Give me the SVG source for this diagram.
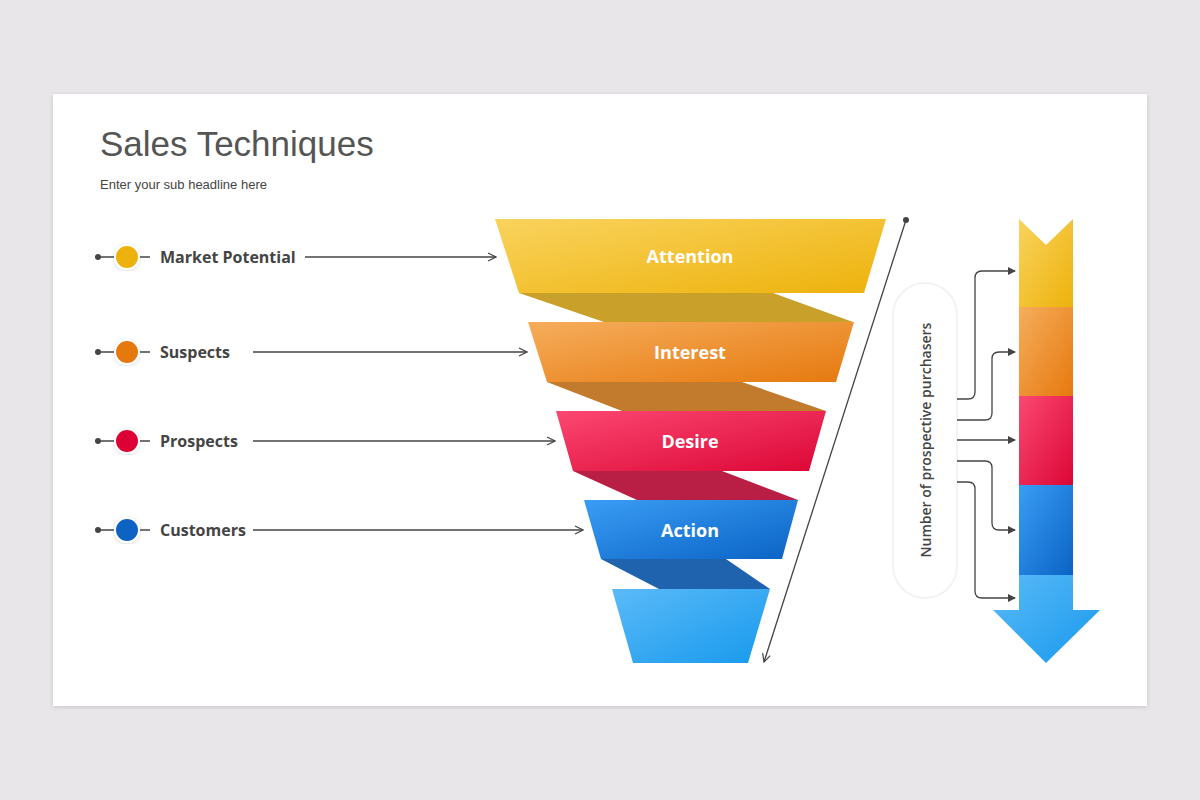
<svg xmlns="http://www.w3.org/2000/svg" width="1200" height="800" viewBox="0 0 1200 800">
<defs>
<linearGradient id="gY" x1="0" y1="0" x2="1" y2="1"><stop offset="0" stop-color="#fad35e"/><stop offset="1" stop-color="#edb20b"/></linearGradient>
<linearGradient id="gO" x1="0" y1="0" x2="1" y2="1"><stop offset="0" stop-color="#f6ad5c"/><stop offset="1" stop-color="#e6790e"/></linearGradient>
<linearGradient id="gR" x1="0" y1="0" x2="1" y2="1"><stop offset="0" stop-color="#fb4871"/><stop offset="1" stop-color="#dc0636"/></linearGradient>
<linearGradient id="gB" x1="0" y1="0" x2="1" y2="1"><stop offset="0" stop-color="#3a9df5"/><stop offset="1" stop-color="#0a63c4"/></linearGradient>
<linearGradient id="gL" x1="0" y1="0" x2="1" y2="1"><stop offset="0" stop-color="#5bbaf8"/><stop offset="1" stop-color="#1799ed"/></linearGradient>
<filter id="sh" x="-5%" y="-5%" width="110%" height="110%"><feDropShadow dx="0" dy="1" stdDeviation="2" flood-color="#000" flood-opacity="0.15"/></filter>
<marker id="ar" markerWidth="10" markerHeight="10" refX="9" refY="5" orient="auto" markerUnits="userSpaceOnUse"><path d="M1,1 L9,5 L1,9" fill="none" stroke="#444" stroke-width="1.2"/></marker>
<marker id="as" markerWidth="8" markerHeight="8" refX="7" refY="4" orient="auto" markerUnits="userSpaceOnUse"><path d="M0,0 L8,4 L0,8 Z" fill="#444"/></marker>
</defs>
<style>
.lbl{font-family:"Open Sans","Liberation Sans",sans-serif;font-weight:bold;font-size:16px;fill:#444}
.fl{font-family:"Open Sans","Liberation Sans",sans-serif;font-weight:bold;font-size:18px;fill:#fff;text-anchor:middle}
.ln{stroke:#444;stroke-width:1.3;fill:none}
</style>
<rect width="1200" height="800" fill="#e8e6e8"/>
<rect x="53" y="94" width="1094" height="612" fill="#fff" filter="url(#sh)"/>
<text x="100" y="156" font-family="Liberation Sans, Arial, sans-serif" font-size="35" fill="#555">Sales Techniques</text>
<text x="100" y="189" font-family="Liberation Sans, Arial, sans-serif" font-size="13" fill="#444">Enter your sub headline here</text>

<g id="legend-market"><line x1="98" y1="257" x2="150" y2="257" class="ln"/><circle cx="98" cy="257" r="3" fill="#444"/><circle cx="127" cy="257" r="12" fill="#edb20b" stroke="#fff" stroke-width="2" filter="url(#sh)"/><text x="160" y="263" class="lbl">Market Potential</text></g>
<g id="legend-suspects"><line x1="98" y1="352" x2="150" y2="352" class="ln"/><circle cx="98" cy="352" r="3" fill="#444"/><circle cx="127" cy="352" r="12" fill="#e6790e" stroke="#fff" stroke-width="2" filter="url(#sh)"/><text x="160" y="358" class="lbl">Suspects</text></g>
<g id="legend-prospects"><line x1="98" y1="441" x2="150" y2="441" class="ln"/><circle cx="98" cy="441" r="3" fill="#444"/><circle cx="127" cy="441" r="12" fill="#dc0636" stroke="#fff" stroke-width="2" filter="url(#sh)"/><text x="160" y="447" class="lbl">Prospects</text></g>
<g id="legend-customers"><line x1="98" y1="530" x2="150" y2="530" class="ln"/><circle cx="98" cy="530" r="3" fill="#444"/><circle cx="127" cy="530" r="12" fill="#0a63c4" stroke="#fff" stroke-width="2" filter="url(#sh)"/><text x="160" y="536" class="lbl">Customers</text></g>

<g id="folds">
<polygon points="519,293 773,293 853,322 604,322" fill="#c9a12a"/>
<polygon points="547,382 742,382 826,411 622,411" fill="#c27a2c"/>
<polygon points="573,471 722,471 798,500 637,500" fill="#b91e44"/>
<polygon points="601,559 726,559 770,589 659,589" fill="#1f63ae"/>
</g>
<g id="attention"><polygon points="495,219 886,219 864,293 519,293" fill="url(#gY)"/><text x="690" y="263" class="fl">Attention</text></g>
<g id="interest"><polygon points="528,322 854,322 836,382 547,382" fill="url(#gO)"/><text x="690" y="359" class="fl">Interest</text></g>
<g id="desire"><polygon points="556,411 826,411 809,471 573,471" fill="url(#gR)"/><text x="690" y="448" class="fl">Desire</text></g>
<g id="action"><polygon points="584,500 798,500 782,559 601,559" fill="url(#gB)"/><text x="690" y="537" class="fl">Action</text></g>
<g id="bottom"><polygon points="612,589 770,589 748,663 633,663" fill="url(#gL)"/></g>

<g id="pill"><rect x="893" y="283" width="64" height="315" rx="32" fill="#fff" stroke="#f0f0f0" stroke-width="1.5"/><text transform="translate(931,440) rotate(-90)" text-anchor="middle" font-family="Open Sans, Liberation Sans, sans-serif" font-size="14" font-weight="600" fill="#444">Number of prospective purchasers</text></g>

<g id="bar">
<polygon points="1019,219 1046,245 1073,219 1073,307 1019,307" fill="url(#gY)"/>
<rect x="1019" y="307" width="54" height="89" fill="url(#gO)"/>
<rect x="1019" y="396" width="54" height="89" fill="url(#gR)"/>
<rect x="1019" y="485" width="54" height="90" fill="url(#gB)"/>
<polygon points="1019,575 1073,575 1073,610 1100,610 1046,663 993,610 1019,610" fill="url(#gL)"/>
</g>

<g id="connectors">
<line x1="305" y1="257" x2="496" y2="257" class="ln" marker-end="url(#ar)"/>
<line x1="253" y1="352" x2="527" y2="352" class="ln" marker-end="url(#ar)"/>
<line x1="253" y1="441" x2="555" y2="441" class="ln" marker-end="url(#ar)"/>
<line x1="253" y1="530" x2="583" y2="530" class="ln" marker-end="url(#ar)"/>
<circle cx="906" cy="220" r="3" fill="#444"/>
<line x1="906" y1="220" x2="764" y2="662" class="ln" marker-end="url(#ar)"/>
<path d="M957,399 H968 Q975,399 975,392 V278 Q975,271 982,271 H1015" class="ln" marker-end="url(#as)"/>
<path d="M957,420 H985 Q992,420 992,413 V359 Q992,352 999,352 H1015" class="ln" marker-end="url(#as)"/>
<path d="M957,440 H1015" class="ln" marker-end="url(#as)"/>
<path d="M957,461 H985 Q992,461 992,468 V523 Q992,530 999,530 H1015" class="ln" marker-end="url(#as)"/>
<path d="M957,482 H968 Q975,482 975,489 V591 Q975,598 982,598 H1015" class="ln" marker-end="url(#as)"/>
</g>
</svg>
